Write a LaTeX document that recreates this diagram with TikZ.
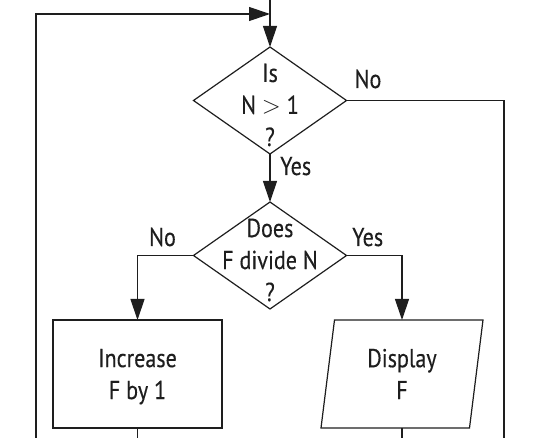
\documentclass[tikz,border=0pt]{standalone}
\usepackage{fontspec}
\setmainfont{PT Sans}[FakeStretch=0.85,FakeBold=0.3]
\usetikzlibrary{shapes.geometric,arrows.meta}
\definecolor{ink}{RGB}{30,30,30}
\begin{document}
\begin{tikzpicture}[x=1pt,y=-1pt,
  ln/.style={line width=1.2pt,draw=ink},
  dia/.style={diamond,ln,minimum width=153pt,minimum height=107pt,inner sep=0pt,outer sep=0pt},
  procbox/.style={rectangle,ln,minimum width=169pt,minimum height=108pt,inner sep=0pt,outer sep=0pt,
    align=center,font=\fontsize{26}{32}\selectfont,text=ink,text depth=0pt},
  iobox/.style={trapezium,trapezium left angle=75,trapezium right angle=105,trapezium stretches body,
    ln,minimum width=162pt,minimum height=108pt,inner sep=0pt,outer sep=0pt,
    align=center,font=\fontsize{26}{32}\selectfont,text=ink,text depth=0pt},
  txt/.style={align=center,font=\fontsize{26}{32}\selectfont,text=ink,inner sep=0pt},
  lbl/.style={font=\fontsize{26}{28}\selectfont,text=ink,inner sep=0pt},
  conn/.style={ln},
  arr/.style={ln,-{Triangle[length=21pt,width=14pt]}}]
\useasboundingbox (0,0) rectangle (549,438);
% nodes
\node[dia] (d1) at (270,100.5) {};
\node[txt] (t1) at (270,105) {Is\\N $>$ 1\\?};
\node[dia] (d2) at (270,255.5) {};
\node[txt] (t2) at (270,260) {Does\\F divide N\\?};
\node[procbox] (inc) at (137.5,374) {Increase\\F by 1};
\node[iobox] (disp) at (402,374) {Display\\F};
% labels
\node[lbl,anchor=base] (no1) at (368,88) {No};
\node[lbl,anchor=base west] (yes1) at (280,175) {Yes};
\node[lbl,anchor=base] (no2) at (162.5,246) {No};
\node[lbl,anchor=base west] (yes2) at (352,246) {Yes};
% free ends
\coordinate (top) at (270,0);
\coordinate (j) at (270,14);
\coordinate (lb) at (36,438);
\coordinate (rb) at (504,438);
% connectors
\draw[arr] (top) -- (d1.north);
\draw[arr] (lb) |- (j);
\draw[conn] (d1.east) -| (rb);
\draw[arr] (d1.south) -- (d2.north);
\draw[arr] (d2.west) -| (inc.north);
\draw[arr] (d2.east) -| (disp.center |- disp.north);
\draw[conn] (inc.south) -- (inc.south |- lb);
\draw[conn] (disp.center |- disp.south) -- (disp.center |- rb);
\end{tikzpicture}
\end{document}
